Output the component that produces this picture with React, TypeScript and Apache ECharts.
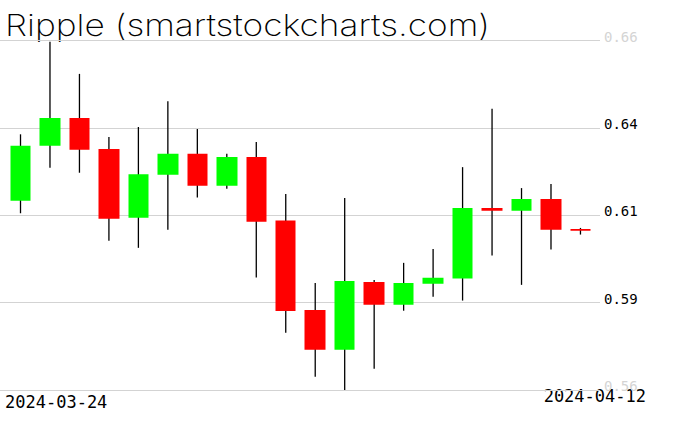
import React, { useEffect, useRef } from "react";
import * as echarts from "echarts";

const titleText = "Ripple (smartstockcharts.com)";

const categories = [
  "2024-03-24", "2024-03-25", "2024-03-26", "2024-03-27", "2024-03-28",
  "2024-03-29", "2024-03-30", "2024-03-31", "2024-04-01", "2024-04-02",
  "2024-04-03", "2024-04-04", "2024-04-05", "2024-04-06", "2024-04-07",
  "2024-04-08", "2024-04-09", "2024-04-10", "2024-04-11", "2024-04-12",
];

const opens = [
  0.6142, 0.6299, 0.6379, 0.6290, 0.6093, 0.6216, 0.6276, 0.6185, 0.6267, 0.6085,
  0.5829, 0.5715, 0.5909, 0.5844, 0.5904, 0.5919, 0.6121, 0.6113, 0.6147, 0.6061,
];
const closes = [
  0.6299, 0.6379, 0.6288, 0.6090, 0.6218, 0.6276, 0.6185, 0.6267, 0.6082, 0.5826,
  0.5715, 0.5912, 0.5844, 0.5906, 0.5921, 0.6121, 0.6113, 0.6147, 0.6059, 0.6056,
];
const lows = [
  0.6106, 0.6236, 0.6222, 0.6027, 0.6007, 0.6059, 0.6151, 0.6176, 0.5922, 0.5764,
  0.5638, 0.5600, 0.5661, 0.5827, 0.5867, 0.5856, 0.5985, 0.5901, 0.6002, 0.6045,
];
const highs = [
  0.6332, 0.6597, 0.6505, 0.6324, 0.6353, 0.6427, 0.6347, 0.6276, 0.6310, 0.6161,
  0.5906, 0.6150, 0.5915, 0.5964, 0.6004, 0.6238, 0.6405, 0.6178, 0.6190, 0.6064,
];

const yMin = 0.56;
const yMax = 0.66;
const tickLabels = ["0.56", "0.59", "0.61", "0.64", "0.66"];
const tickLabelColors = ["#d4d4d4", "#000000", "#000000", "#000000", "#d4d4d4"];

export default function App() {
  const ref = useRef<HTMLDivElement>(null);
  useEffect(() => {
    if (!ref.current) return;
    const chart = echarts.init(ref.current, null, { renderer: "svg" });
    const top = 40.7;
    const bottom = 431 - 390;
    const candleData = categories.map((_, i) => [opens[i], closes[i], lows[i], highs[i]]);
    const wickData = categories.map((_, i) => [i, lows[i], highs[i]]);
    chart.setOption({
      animation: false,
      backgroundColor: "#ffffff",
      grid: [
        { left: 0, right: 76, top, bottom, containLabel: false },
        { left: 5.77, right: 676 - 595.2, top, bottom, containLabel: false },
      ],
      xAxis: [
        { type: "value", gridIndex: 0, min: 0, max: 1, show: false },
        { type: "category", gridIndex: 1, data: categories, boundaryGap: true, show: false },
      ],
      yAxis: [
        {
          type: "value",
          gridIndex: 0,
          min: 0,
          max: tickLabels.length - 1,
          interval: 1,
          position: "right",
          axisLine: { show: false },
          axisTick: { show: false },
          splitLine: { show: true, lineStyle: { color: "#d3d3d3", width: 1 } },
          axisLabel: {
            show: true,
            margin: 4,
            fontFamily: "DejaVu Sans Mono",
            fontSize: 14,
            verticalAlign: "bottom",
            lineHeight: 14,
            padding: [0, 0, -3, 0],
            formatter: (v: number) => tickLabels[Math.round(v)] ?? "",
            color: (v: any) => tickLabelColors[Math.round(Number(v))] ?? "#000",
          },
        },
        { type: "value", gridIndex: 1, min: yMin, max: yMax, show: false },
      ],
      series: [
        {
          type: "custom",
          xAxisIndex: 1,
          yAxisIndex: 1,
          z: 1,
          data: wickData,
          encode: { x: 0, y: [1, 2] },
          renderItem: (params: any, api: any) => {
            const i = api.value(0);
            const p1 = api.coord([i, api.value(1)]);
            const p2 = api.coord([i, api.value(2)]);
            return {
              type: "line",
              shape: { x1: p1[0], y1: p1[1], x2: p2[0], y2: p2[1] },
              style: { stroke: "#000000", lineWidth: 1.3 },
            };
          },
        },
        {
          type: "candlestick",
          xAxisIndex: 1,
          yAxisIndex: 1,
          z: 2,
          barWidth: 21,
          data: candleData,
          itemStyle: {
            color: "#00ff00",
            color0: "#ff0000",
            borderColor: "transparent",
            borderColor0: "transparent",
            borderWidth: 0,
          },
        },
      ],
      graphic: [
        {
          type: "text",
          x: 5,
          y: 9.5,
          scaleX: 1.175,
          style: {
            text: titleText,
            fontFamily: "Inter",
            fontWeight: 200,
            fontSize: 30,
            verticalAlign: "top",
            fill: "#000000",
          },
        },
        {
          type: "text",
          x: 5,
          y: 393,
          style: {
            text: categories[0],
            fontFamily: "DejaVu Sans Mono",
            fontSize: 17,
            fill: "#000000",
          },
        },
        {
          type: "text",
          x: 646,
          y: 387,
          style: {
            text: categories[categories.length - 1],
            fontFamily: "DejaVu Sans Mono",
            fontSize: 17,
            align: "right",
            fill: "#000000",
          },
        },
      ],
    });
    return () => chart.dispose();
  }, []);
  return (
    <div
      ref={ref}
      style={{ position: "fixed", left: 0, top: 0, width: 676, height: 431 }}
    />
  );
}
